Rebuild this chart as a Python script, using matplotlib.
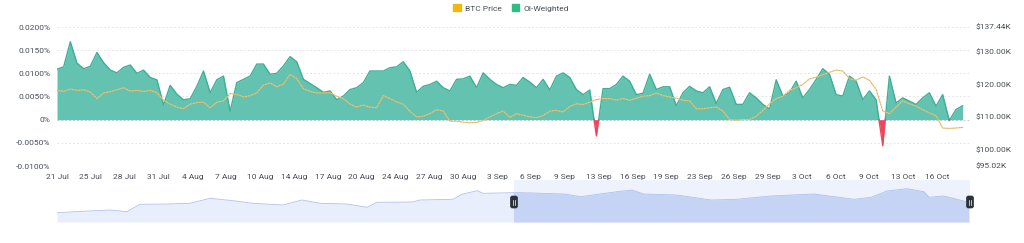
import numpy as np
import matplotlib
matplotlib.use('Agg')
import matplotlib.pyplot as plt
from matplotlib.patches import Patch, FancyBboxPatch, Rectangle
from matplotlib.lines import Line2D
from matplotlib.transforms import IdentityTransform

# ---------------- data ----------------
# OI-weighted funding rate, in units of 0.001 %
funding_rate = [
    10.9, 11.4, 16.8, 12.2, 11.0, 11.5, 14.5, 12.3, 10.7, 10.1,
    11.3, 11.8, 10.0, 10.7, 9.1, 8.6, 3.2, 7.4, 5.5, 4.3,
    4.5, 7.2, 10.5, 5.8, 8.6, 9.4, 1.8, 8.0, 8.7, 9.4,
    12.0, 12.0, 9.8, 10.0, 11.6,
    13.6, 12.5, 8.7, 7.8, 6.9, 5.9, 6.2, 4.3, 5.1, 6.5,
    6.9, 8.0, 10.5, 10.5, 10.5, 11.2, 11.4, 12.5, 10.5, 5.9,
    7.2, 7.6, 8.3, 6.9, 6.2, 8.7, 8.8, 9.4, 6.9, 10.1,
    8.7, 7.6, 6.9, 7.6, 7.4,
    9.1, 8.1, 6.9, 8.7, 6.4, 9.4, 10.1, 9.1, 6.5, 5.4,
    6.4, -3.5, 6.7, 6.7, 7.6, 9.4, 8.3, 5.4, 5.7, 9.8,
    6.5, 7.1, 7.1, 3.0, 5.8, 7.2, 6.2, 5.8, 7.1, 3.5,
    6.5, 7.0, 3.3, 3.3,
    5.8, 4.7, 3.3, 2.3, 8.6, 5.1, 5.8, 8.3, 4.7, 6.5,
    8.7, 11.0, 9.8, 5.4, 5.1, 9.4, 8.3, 4.3, 6.2, 4.3,
    -5.6, 9.4, 3.6, 4.7, 4.0, 3.3, 4.7, 5.8, 2.9, 5.4,
    -0.2, 2.2, 3.0,
]

# BTC price, thousands of USD
btc_price_k = [
    118.1, 117.8, 118.5, 118.1, 118.3, 117.6, 115.6, 117.3, 117.7, 118.3,
    118.9, 117.9, 118.1, 117.8, 118.1, 117.4, 115.1, 113.9, 113.0, 112.5,
    113.9, 114.4, 114.5, 112.8, 114.5, 114.9, 117.1, 116.9, 116.1, 116.5,
    117.3, 119.7, 120.4, 119.2, 120.0,
    123.0, 121.7, 118.6, 117.8, 117.3, 117.3, 117.4, 116.3, 115.6, 113.9,
    113.0, 113.6, 113.0, 112.8, 116.5, 115.6, 114.6, 113.9, 111.7, 110.0,
    110.2, 111.0, 112.2, 111.8, 108.7, 108.7, 108.4, 108.2, 108.3, 108.9,
    110.0, 111.0, 111.8, 109.8,
    111.0,
    110.5, 110.0, 109.8, 110.4, 111.8, 112.0, 111.5, 113.2, 114.0, 113.8,
    114.5, 115.3, 115.6, 115.6, 115.1, 115.6, 115.1, 115.7, 116.3, 116.5,
    117.3, 116.5, 116.1, 115.7, 115.1, 114.9, 112.5, 112.5, 112.8, 113.0,
    111.8, 109.2, 109.0, 109.2,
    109.2, 110.2, 112.0, 114.0, 115.6, 116.3, 118.1, 118.9, 119.9, 121.6,
    122.1, 122.9, 123.6, 124.3, 124.0, 121.7, 121.2, 122.2, 121.2, 118.4,
    111.8, 111.0, 113.0, 114.9, 114.0, 113.3, 112.2, 111.2, 110.4, 106.6,
    106.5, 106.6, 106.8,
]

step_hours = 15.74          # spacing between samples (hours)
tick_step_hours = 80        # spacing between x tick labels (hours)
x_tick_labels = ['21 Jul', '25 Jul', '28 Jul', '31 Jul', '4 Aug', '7 Aug', '10 Aug',
                 '14 Aug', '17 Aug', '20 Aug', '24 Aug', '27 Aug', '30 Aug', '3 Sep',
                 '6 Sep', '9 Sep', '13 Sep', '16 Sep', '19 Sep', '23 Sep', '26 Sep',
                 '29 Sep', '3 Oct', '6 Oct', '9 Oct', '13 Oct', '16 Oct']
x_max_hours = 2158

left_ticks = [-0.01, -0.005, 0, 0.005, 0.01, 0.015, 0.02]
left_tick_labels = ['-0.0100%', '-0.0050%', '0%', '0.0050%', '0.0100%', '0.0150%', '0.0200%']
right_ticks = [95.02, 100, 110, 120, 130, 137.44]
right_tick_labels = ['$95.02K', '$100.00K', '$110.00K', '$120.00K', '$130.00K', '$137.44K']

# navigator series (hours, relative height)
nav_hours = [0, 61, 125, 165, 196, 260, 314, 362, 416, 463, 534, 579, 622, 685, 733,
             756, 841, 858, 936, 957, 993, 1007, 1078, 1097, 1198, 1238, 1323, 1359,
             1387, 1465, 1546, 1607, 1687, 1789, 1884, 1924, 1962, 2009, 2049, 2061,
             2096, 2155]
nav_values = [9.3, 10.7, 12.0, 10.3, 17.7, 18.0, 18.7, 23.7, 21.3, 18.7, 17.0, 22.0,
              18.7, 18.0, 14.7, 19.7, 20.0, 22.0, 22.7, 27.7, 31.3, 28.7, 29.3, 29.3,
              28.0, 25.3, 30.3, 32.0, 28.0, 27.0, 22.0, 22.7, 26.0, 28.0, 22.7, 24.7,
              31.0, 33.3, 30.3, 24.7, 26.0, 19.7]
sel_start_hours = 1080

# ---------------- style ----------------
plt.rcParams['font.family'] = ['Roboto', 'DejaVu Sans']
TXT = '#474D57'
GREEN_FILL = '#63C3B0'
GREEN_EDGE = '#3CB096'
RED = '#F0465D'
ORANGE = '#EDC475'

W, H = 1024, 243
fig = plt.figure(figsize=(W / 100, H / 100), dpi=100)


def rect(l, t, r, b):
    return [l / W, 1 - b / H, (r - l) / W, (b - t) / H]


ax = fig.add_axes(rect(57, 27, 970, 166))
x = np.arange(len(funding_rate)) * step_hours
y = np.array(funding_rate) / 1000.0

# insert zero crossings for clean colouring
xs, ys = [x[0]], [y[0]]
for i in range(1, len(x)):
    if y[i - 1] * y[i] < 0:
        xc = x[i - 1] + (x[i] - x[i - 1]) * y[i - 1] / (y[i - 1] - y[i])
        xs.append(xc)
        ys.append(0.0)
    xs.append(x[i])
    ys.append(y[i])
xs, ys = np.array(xs), np.array(ys)

for t in left_ticks:
    ax.axhline(t, color='#C9CDD2' if t == 0 else '#E4E6EA', lw=0.7,
               ls=(0, (2, 2)), zorder=0)

ax.fill_between(xs, 0, np.maximum(ys, 0), color=GREEN_FILL, lw=0, zorder=2)
ax.fill_between(xs, 0, np.minimum(ys, 0), color=RED, lw=0, zorder=2)
ax.plot(xs, np.where(ys >= 0, ys, np.nan), color=GREEN_EDGE, lw=1.0, zorder=3)
ax.plot(xs, np.where(ys <= 0, ys, np.nan), color=RED, lw=1.0, zorder=3)

ax.set_xlim(0, x_max_hours)
ax.set_ylim(-0.01, 0.02)
ax.set_yticks(left_ticks, left_tick_labels)
ax.set_xticks(np.arange(len(x_tick_labels)) * tick_step_hours, x_tick_labels)
ax.tick_params(axis='both', length=0, labelsize=6, colors=TXT)
ax.tick_params(axis='y', pad=5)
ax.tick_params(axis='x', pad=6)
for s in ax.spines.values():
    s.set_visible(False)

ax2 = ax.twinx()
ax2.plot(x, btc_price_k, color=ORANGE, lw=0.8, zorder=4)
ax2.plot(x, btc_price_k, color='#7A6A50', lw=0.6, ls=(0, (0.6, 3.0)), alpha=0.55, zorder=5)
ax2.set_ylim(95.02, 137.44)
ax2.set_yticks(right_ticks, right_tick_labels)
ax2.tick_params(axis='y', length=0, labelsize=6, colors=TXT, pad=4)
for s in ax2.spines.values():
    s.set_visible(False)

fig.legend(handles=[Patch(color='#F0B90B', label='BTC Price'),
                    Patch(color='#2EBD85', label='OI-Weighted')],
           loc='center', bbox_to_anchor=(511 / W, 1 - 8 / H), ncol=2, frameon=False,
           fontsize=6, handlelength=0.9, handleheight=0.9, handletextpad=0.5,
           columnspacing=1.2, labelcolor=TXT)

# ---------------- navigator ----------------
axn = fig.add_axes(rect(57, 180, 970, 222))
axn.set_xlim(0, x_max_hours)
axn.set_ylim(0, 42)
axn.axis('off')
axn.axvspan(sel_start_hours, x_max_hours, color='#EEF2FD', lw=0, zorder=0)
axn.fill_between(nav_hours, 0, nav_values, color='#E8EEFC', lw=0, zorder=1)
dark = axn.fill_between(nav_hours, 0, nav_values, color='#C5D4F5', lw=0, zorder=2)
clip = Rectangle((sel_start_hours, 0), x_max_hours - sel_start_hours, 42,
                 transform=axn.transData)
dark.set_clip_path(clip)
axn.plot(nav_hours, nav_values, color='#AFC0EF', lw=0.6, zorder=3)

for cx in (514, 970):
    cy = H - 202
    p = FancyBboxPatch((cx - 3.5, cy - 6), 7, 12, boxstyle='round,pad=0,rounding_size=2',
                       fc='#2B3139', ec='#2B3139', lw=0.5, transform=IdentityTransform())
    fig.add_artist(p)
    for dx in (-1, 1):
        fig.add_artist(Line2D([cx + dx, cx + dx], [cy - 2.5, cy + 2.5], color='white',
                              lw=0.5, transform=IdentityTransform()))

fig.savefig('out.png', dpi=100)
